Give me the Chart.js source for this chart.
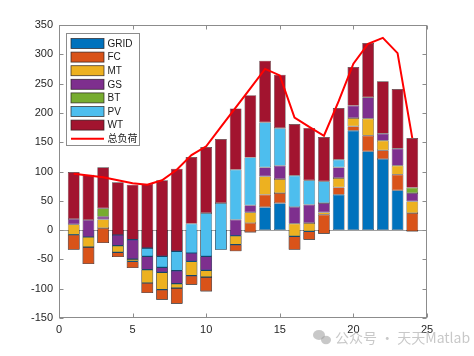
<!DOCTYPE html>
<html><head><meta charset="utf-8">
<script src="https://cdn.jsdelivr.net/npm/chart.js@4.4.0/dist/chart.umd.min.js"></script>
<style>html,body{margin:0;padding:0;background:#fff;}#wrap{width:474px;height:356px;}</style>
</head><body>
<div id="wrap"><canvas id="c" width="474" height="356"></canvas></div>
<script>
// ---- data ----
const hours = [1,2,3,4,5,6,7,8,9,10,11,12,13,14,15,16,17,18,19,20,21,22,23,24];
const seriesNames = ['GRID','FC','MT','GS','BT','PV','WT'];
const loadName = '总负荷';
const gridPower = [-33.6,-57.9,-22.1,-46,-64.7,-107.4,-118.8,-125.6,-93.2,-104.6,-33.6,-36.3,-3.9,39.2,46,-33.5,-16.4,-6.1,60.4,169.6,134.4,121.3,67.8,-2.2];
const fcPower   = [25.7,29,25.6,8,11.3,17.1,17.1,26.7,15.4,24.5,0,11.4,16,21.1,17.1,22.8,14.2,32.4,12.5,7.4,26.7,14.8,26.7,31.2];
const mtPower   = [17.7,17.1,14.8,11.4,4,22.7,29.6,7.4,24.4,11.4,0,15.3,18.3,31.3,23.9,21.7,14.2,3.9,15.9,14.2,29,16.5,15.4,19.9];
const gsPower   = [9.1,29,4.6,18.2,33,22.8,8.5,22.2,14.3,23.9,0,27.3,12,15.3,22.8,28.4,31.3,16,18.2,21,36.4,11.9,29,14.2];
const btPower   = [0,0,14.2,0,0,0,0,0,0,0,0,0,0,0,0,0,0,0,0,0,0,0,0,9.2];
const pvPower   = [0,0,0,0,0,14.2,18.8,33,49.9,73.9,79.8,85.3,81.5,76.8,64.2,53.4,41.6,37,13.1,0,0,0,0,0];
const wtPower   = [80.2,77.3,70,89.9,93.9,109.8,129.7,141.1,113.8,112.5,109.1,104.6,106.2,105.3,91.1,88.2,89.3,75.6,88.1,66,92.6,89.3,101.8,84.8];
const totalLoad = [96,93,90,85,80,77.5,85,103,128,143,176,209,242,275,264,192,176,161,220,284,318,328,302,157];
const xTickValues = [0,5,10,15,20,25];
const yTickValues = [-150,-100,-50,0,50,100,150,200,250,300,350];

// ---- styles ----
const seriesColors = ['#0072BD','#D95319','#EDB120','#7E2F8E','#77AC30','#4DBEEE','#A2142F'];
const lineColor = '#FF0000';
const axisColor = '#8c8c8c';
const textColor = '#262626';
const edgeColor = 'rgba(40,30,30,0.85)';

const seriesValues = [gridPower, fcPower, mtPower, gsPower, btPower, pvPower, wtPower];
const bases = hours.map(() => 0);
const barSets = seriesValues.map((vals, k) => {
  const data = hours.map((h, i) => {
    const start = bases[i];
    const end = start + vals[i];
    bases[i] = end;
    return { x: h, y: vals[i] === 0 ? null : [start, end] };
  });
  return {
    type: 'bar', label: seriesNames[k], data,
    backgroundColor: seriesColors[k], borderColor: edgeColor, borderWidth: 0.6,
    borderSkipped: false, barPercentage: 0.8, categoryPercentage: 1,
    order: 10 - k
  };
});
const lineSet = {
  type: 'line', label: loadName, stack: 'load',
  data: hours.map((h, i) => ({ x: h, y: totalLoad[i] })),
  borderColor: lineColor, borderWidth: 2, pointRadius: 0, fill: false, tension: 0, order: 0
};

const decor = {
  id: 'decor',
  beforeDatasetsDraw(chart) {
    const { ctx, chartArea: a, scales: { y } } = chart;
    const y0 = Math.round(y.getPixelForValue(0)) + 0.5;
    ctx.save();
    ctx.strokeStyle = '#a0a0a0'; ctx.lineWidth = 1;
    ctx.beginPath(); ctx.moveTo(a.left, y0); ctx.lineTo(a.right, y0); ctx.stroke();
    ctx.restore();
  },
  afterDraw(chart) {
    const { ctx, chartArea: a, scales: { x, y } } = chart;
    const L = Math.round(a.left) + 0.5, R = Math.round(a.right) - 0.5;
    const T = Math.round(a.top) + 0.5, B = Math.round(a.bottom) - 0.5;
    ctx.save();
    ctx.strokeStyle = axisColor; ctx.lineWidth = 1;
    ctx.strokeRect(L, T, R - L, B - T);
    const tl = 4;
    ctx.beginPath();
    xTickValues.forEach(v => {
      const px = Math.round(x.getPixelForValue(v)) + 0.5;
      ctx.moveTo(px, B); ctx.lineTo(px, B - tl);
      ctx.moveTo(px, T); ctx.lineTo(px, T + tl);
    });
    yTickValues.forEach(v => {
      const py = Math.round(y.getPixelForValue(v)) + 0.5;
      ctx.moveTo(L, py); ctx.lineTo(L + tl, py);
      ctx.moveTo(R, py); ctx.lineTo(R - tl, py);
    });
    ctx.stroke();

    // legend
    const lx = 66.5, ly = 33.5, lw = 73, lh = 112;
    ctx.fillStyle = '#fff'; ctx.fillRect(lx, ly, lw, lh);
    ctx.strokeStyle = axisColor; ctx.strokeRect(lx, ly, lw, lh);
    const rowY0 = 43.5, rowStep = 13.6;
    ctx.font = '10px "Liberation Sans", Arial, sans-serif';
    ctx.textBaseline = 'middle'; ctx.textAlign = 'left';
    seriesNames.forEach((name, k) => {
      const cy = rowY0 + k * rowStep;
      ctx.fillStyle = seriesColors[k];
      ctx.fillRect(71, cy - 5, 33, 10);
      ctx.strokeStyle = edgeColor; ctx.lineWidth = 0.8;
      ctx.strokeRect(71, cy - 5, 33, 10);
      ctx.fillStyle = '#1a1a1a';
      ctx.fillText(name, 107.5, cy + 0.5);
    });
    const cyl = rowY0 + 7 * rowStep;
    ctx.strokeStyle = lineColor; ctx.lineWidth = 2;
    ctx.beginPath(); ctx.moveTo(71, cyl); ctx.lineTo(104, cyl); ctx.stroke();
    ctx.fillStyle = '#1a1a1a';
    ctx.font = '10px "Noto Sans CJK SC", sans-serif';
    ctx.fillText(loadName, 107.5, cyl);

    // watermark
    ctx.globalAlpha = 0.55;
    ctx.fillStyle = '#9a9a9a';
    ctx.beginPath(); ctx.ellipse(319, 335, 6, 5, 0, 0, Math.PI * 2); ctx.fill();
    ctx.beginPath(); ctx.ellipse(326, 340, 5, 4.2, 0, 0, Math.PI * 2); ctx.fill();
    ctx.font = '14px "Noto Sans CJK SC", sans-serif';
    ctx.fillText('公众号 · 天天Matlab', 335, 338);
    ctx.restore();
  }
};

Chart.defaults.font.family = '"Liberation Sans", Arial, sans-serif';
Chart.defaults.font.size = 11;
Chart.defaults.color = textColor;

new Chart(document.getElementById('c'), {
  data: { datasets: [...barSets, lineSet] },
  options: {
    responsive: false, animation: false, devicePixelRatio: 1,
    layout: { padding: { left: 0, right: 47, top: 25, bottom: 0 } },
    plugins: { legend: { display: false }, tooltip: { enabled: false } },
    scales: {
      x: {
        type: 'linear', min: 0, max: 25, offset: false, stacked: true,
        grid: { display: false, drawTicks: false }, border: { display: false },
        ticks: { padding: 5, color: textColor },
        afterBuildTicks: s => { s.ticks = xTickValues.map(v => ({ value: v })); },
        afterFit: s => { s.height = 38; }
      },
      y: {
        type: 'linear', min: -150, max: 350, stacked: false,
        grid: { display: false, drawTicks: false }, border: { display: false },
        ticks: { padding: 6, color: textColor },
        afterBuildTicks: s => { s.ticks = yTickValues.map(v => ({ value: v })); },
        afterFit: s => { s.width = 59; }
      }
    }
  },
  plugins: [decor]
});
</script>
</body></html>
